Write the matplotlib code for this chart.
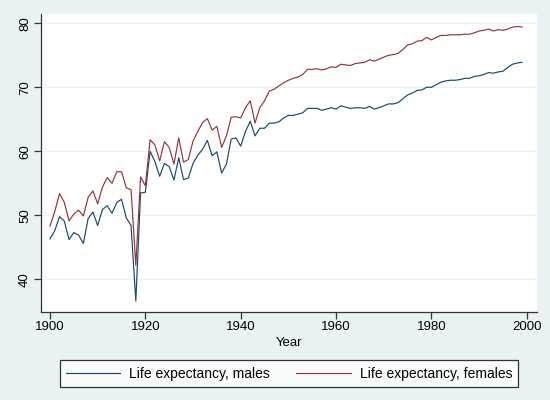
import numpy as np
import matplotlib
matplotlib.use("Agg")
import matplotlib.pyplot as plt

plt.rcParams['font.family'] = ['Liberation Sans', 'DejaVu Sans']

years = np.arange(1900, 2000)

le_male = [46.3, 47.6, 49.8, 49.1, 46.2, 47.3, 46.9, 45.6, 49.5, 50.5,
           48.4, 50.9, 51.5, 50.3, 52.0, 52.5, 49.6, 48.4, 36.6, 53.5,
           53.6, 60.0, 58.4, 56.1, 58.1, 57.6, 55.5, 59.0, 55.6, 55.8,
           58.1, 59.4, 60.3, 61.7, 59.3, 59.9, 56.6, 58.0, 61.9, 62.1,
           60.8, 63.1, 64.7, 62.4, 63.6, 63.6, 64.4, 64.4, 64.6, 65.2,
           65.6, 65.6, 65.8, 66.0, 66.7, 66.7, 66.7, 66.4, 66.6, 66.8,
           66.6, 67.1, 66.9, 66.7, 66.8, 66.8, 66.7, 67.0, 66.6, 66.8,
           67.1, 67.4, 67.4, 67.6, 68.2, 68.8, 69.1, 69.5, 69.6, 70.0,
           70.0, 70.4, 70.8, 71.0, 71.1, 71.1, 71.2, 71.4, 71.4, 71.7,
           71.8, 72.0, 72.3, 72.2, 72.4, 72.5, 73.1, 73.6, 73.8, 73.9]

le_female = [48.3, 50.6, 53.4, 52.0, 49.1, 50.2, 50.8, 49.9, 52.8, 53.8,
             51.8, 54.4, 55.9, 55.0, 56.8, 56.8, 54.3, 54.0, 42.2, 56.0,
             54.6, 61.8, 61.0, 58.5, 61.5, 60.6, 58.0, 62.1, 58.3, 58.7,
             61.6, 63.1, 64.5, 65.1, 63.3, 63.9, 60.6, 62.4, 65.3, 65.4,
             65.2, 66.8, 67.9, 64.4, 66.8, 67.9, 69.4, 69.7, 70.2, 70.7,
             71.1, 71.4, 71.6, 72.0, 72.8, 72.8, 72.9, 72.7, 72.9, 73.2,
             73.1, 73.6, 73.5, 73.4, 73.7, 73.8, 73.9, 74.3, 74.1, 74.4,
             74.7, 75.0, 75.1, 75.3, 75.9, 76.6, 76.8, 77.2, 77.3, 77.8,
             77.4, 77.8, 78.1, 78.1, 78.2, 78.2, 78.2, 78.3, 78.3, 78.5,
             78.8, 78.9, 79.1, 78.8, 79.0, 78.9, 79.1, 79.4, 79.5, 79.4]

bg = "#EAF2F3"
fig = plt.figure(figsize=(5.5, 4), dpi=100, facecolor=bg)
ax = fig.add_axes([0.074, 0.221, 0.902, 0.744])
ax.set_facecolor("white")

ax.plot(years, le_male, color="#1A476F", lw=0.85, label="Life expectancy, males")
ax.plot(years, le_female, color="#90353B", lw=0.85, label="Life expectancy, females")

ax.set_xlim(1898.05, 2002.1)
ax.set_ylim(34.95, 81.45)
ax.set_xticks([1900, 1920, 1940, 1960, 1980, 2000])
ax.set_yticks([40, 50, 60, 70, 80])
ax.yaxis.grid(True, color=bg, lw=0.9)
ax.set_axisbelow(True)

for s in ["top", "right"]:
    ax.spines[s].set_visible(False)
for s in ["left", "bottom"]:
    ax.spines[s].set_color("#333333")
    ax.spines[s].set_linewidth(0.9)

ax.tick_params(axis="both", length=5, width=0.9, color="#333333",
               labelsize=9.5, pad=2)
for lab in ax.get_yticklabels():
    lab.set_rotation(90)
    lab.set_va("center")

ax.set_xlabel("Year", fontsize=9.5, labelpad=3)

leg = fig.legend(loc="center", bbox_to_anchor=(0.5255, 0.066),
                 bbox_transform=fig.transFigure, ncol=2, frameon=True,
                 fancybox=False, fontsize=10, handlelength=3.9,
                 handletextpad=0.65, columnspacing=1.9, borderpad=0.45,
                 borderaxespad=0)
leg.get_frame().set_edgecolor("black")
leg.get_frame().set_linewidth(0.9)

fig.savefig("out.png", dpi=100, facecolor=bg)
